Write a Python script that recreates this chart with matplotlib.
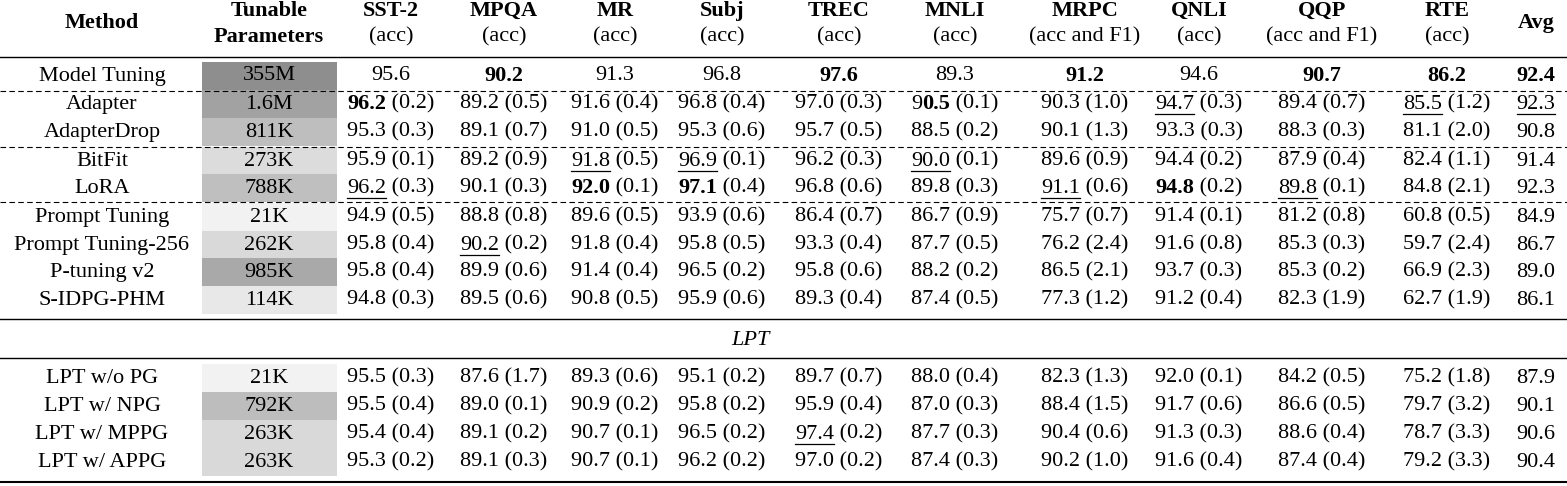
import re
import matplotlib
matplotlib.use("Agg")
import matplotlib.pyplot as plt
from matplotlib.patches import Rectangle

headers1 = ["Method", "Tunable", "SST-2", "MPQA", "MR", "Subj", "TREC", "MNLI", "MRPC", "QNLI", "QQP", "RTE", "Avg"]
headers2 = ["", "Parameters", "(acc)", "(acc)", "(acc)", "(acc)", "(acc)", "(acc)", "(acc and F1)", "(acc)", "(acc and F1)", "(acc)", ""]

methods = ["Model Tuning", "Adapter", "AdapterDrop", "BitFit", "LoRA", "Prompt Tuning",
           "Prompt Tuning-256", "P-tuning v2", "S-IDPG-PHM",
           "LPT w/o PG", "LPT w/ NPG", "LPT w/ MPPG", "LPT w/ APPG"]
params = ["355M", "1.6M", "811K", "273K", "788K", "21K", "262K", "985K", "114K",
          "21K", "792K", "263K", "263K"]
shades = ["#8e8e8e", "#a2a2a2", "#bebebe", "#dcdcdc", "#bfbfbf", "#f2f2f2", "#d9d9d9",
          "#a9a9a9", "#e8e8e8", "#f2f2f2", "#bdbdbd", "#d9d9d9", "#d9d9d9"]
values = [
 ["95.6", "**90.2**", "91.3", "96.8", "**97.6**", "89.3", "**91.2**", "94.6", "**90.7**", "**86.2**", "**92.4**"],
 ["**96.2** (0.2)", "89.2 (0.5)", "91.6 (0.4)", "96.8 (0.4)", "97.0 (0.3)", "9**0.5** (0.1)", "90.3 (1.0)", "__94.7__ (0.3)", "89.4 (0.7)", "__85.5__ (1.2)", "__92.3__"],
 ["95.3 (0.3)", "89.1 (0.7)", "91.0 (0.5)", "95.3 (0.6)", "95.7 (0.5)", "88.5 (0.2)", "90.1 (1.3)", "93.3 (0.3)", "88.3 (0.3)", "81.1 (2.0)", "90.8"],
 ["95.9 (0.1)", "89.2 (0.9)", "__91.8__ (0.5)", "__96.9__ (0.1)", "96.2 (0.3)", "__90.0__ (0.1)", "89.6 (0.9)", "94.4 (0.2)", "87.9 (0.4)", "82.4 (1.1)", "91.4"],
 ["__96.2__ (0.3)", "90.1 (0.3)", "**92.0** (0.1)", "**97.1** (0.4)", "96.8 (0.6)", "89.8 (0.3)", "__91.1__ (0.6)", "**94.8** (0.2)", "__89.8__ (0.1)", "84.8 (2.1)", "92.3"],
 ["94.9 (0.5)", "88.8 (0.8)", "89.6 (0.5)", "93.9 (0.6)", "86.4 (0.7)", "86.7 (0.9)", "75.7 (0.7)", "91.4 (0.1)", "81.2 (0.8)", "60.8 (0.5)", "84.9"],
 ["95.8 (0.4)", "__90.2__ (0.2)", "91.8 (0.4)", "95.8 (0.5)", "93.3 (0.4)", "87.7 (0.5)", "76.2 (2.4)", "91.6 (0.8)", "85.3 (0.3)", "59.7 (2.4)", "86.7"],
 ["95.8 (0.4)", "89.9 (0.6)", "91.4 (0.4)", "96.5 (0.2)", "95.8 (0.6)", "88.2 (0.2)", "86.5 (2.1)", "93.7 (0.3)", "85.3 (0.2)", "66.9 (2.3)", "89.0"],
 ["94.8 (0.3)", "89.5 (0.6)", "90.8 (0.5)", "95.9 (0.6)", "89.3 (0.4)", "87.4 (0.5)", "77.3 (1.2)", "91.2 (0.4)", "82.3 (1.9)", "62.7 (1.9)", "86.1"],
 ["95.5 (0.3)", "87.6 (1.7)", "89.3 (0.6)", "95.1 (0.2)", "89.7 (0.7)", "88.0 (0.4)", "82.3 (1.3)", "92.0 (0.1)", "84.2 (0.5)", "75.2 (1.8)", "87.9"],
 ["95.5 (0.4)", "89.0 (0.1)", "90.9 (0.2)", "95.8 (0.2)", "95.9 (0.4)", "87.0 (0.3)", "88.4 (1.5)", "91.7 (0.6)", "86.6 (0.5)", "79.7 (3.2)", "90.1"],
 ["95.4 (0.4)", "89.1 (0.2)", "90.7 (0.1)", "96.5 (0.2)", "__97.4__ (0.2)", "87.7 (0.3)", "90.4 (0.6)", "91.3 (0.3)", "88.6 (0.4)", "78.7 (3.3)", "90.6"],
 ["95.3 (0.2)", "89.1 (0.3)", "90.7 (0.1)", "96.2 (0.2)", "97.0 (0.2)", "87.4 (0.3)", "90.2 (1.0)", "91.6 (0.4)", "87.4 (0.4)", "79.2 (3.3)", "90.4"],
]

colx = [102, 269, 391, 504, 615, 722, 839, 955, 1085, 1199, 1322, 1447, 1536]
rowy = [76, 104, 132, 161, 188, 217, 245, 272, 300, 378, 406, 434, 462]

FONT = "Liberation Serif"
FS = 16

fig = plt.figure(figsize=(15.67, 4.86), dpi=100)
ax = fig.add_axes([0, 0, 1, 1])
ax.set_xlim(0, 1567); ax.set_ylim(486, 0); ax.axis("off")
r = fig.canvas.get_renderer()

def parse(s):
    parts = []
    for tok in re.split(r"(\*\*.*?\*\*|__.*?__)", s):
        if not tok:
            continue
        if tok.startswith("**"):
            parts.append((tok[2:-2], "bold", False))
        elif tok.startswith("__"):
            parts.append((tok[2:-2], "normal", True))
        else:
            parts.append((tok, "normal", False))
    return parts

def draw_cell(s, xc, yc):
    texts = []
    for txt, w, u in parse(s):
        t = ax.text(0, yc, txt, fontfamily=FONT, fontsize=FS, fontweight=w, va="center", ha="left")
        texts.append((t, u))
    widths = [t.get_window_extent(r).width for t, _ in texts]
    x = xc - sum(widths) / 2
    for (t, u), w in zip(texts, widths):
        t.set_x(x)
        if u:
            ax.plot([x, x + w], [yc + 10, yc + 10], color="black", lw=0.9)
        x += w

for i, (h1, h2) in enumerate(zip(headers1, headers2)):
    if h2:
        ax.text(colx[i], 11, h1, fontfamily=FONT, fontsize=FS, fontweight="bold", ha="center", va="center")
        ax.text(colx[i], 37, h2, fontfamily=FONT, fontsize=FS,
                fontweight="bold" if i == 1 else "normal", ha="center", va="center")
    else:
        ax.text(colx[i], 23, h1, fontfamily=FONT, fontsize=FS, fontweight="bold", ha="center", va="center")

for i in range(len(methods)):
    y = rowy[i]
    ax.add_patch(Rectangle((202, y - 14), 135, 28, color=shades[i], lw=0))
    ax.text(colx[0], y, methods[i], fontfamily=FONT, fontsize=FS, ha="center", va="center")
    ax.text(colx[1], y, params[i], fontfamily=FONT, fontsize=FS, ha="center", va="center")
    for j, v in enumerate(values[i]):
        draw_cell(v, colx[j + 2], y)

ax.text(750, 340, "LPT", fontfamily=FONT, fontsize=FS, style="italic", ha="center", va="center")

for y, lw in [(57, 1.0), (319, 1.0), (358, 1.0), (482, 1.5)]:
    ax.plot([0, 1567], [y, y], color="black", lw=lw)
for y in [91, 147, 202]:
    ax.plot([0, 1567], [y, y], color="black", lw=0.8, ls=(0, (5, 3)))

fig.savefig("out.png", dpi=100)
